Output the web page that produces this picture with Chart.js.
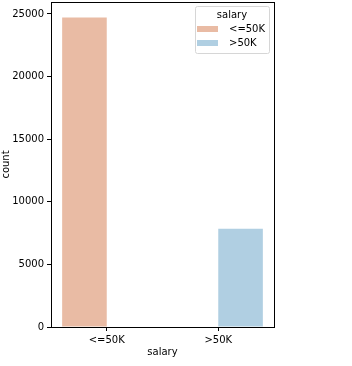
<!DOCTYPE html>
<html>
<head>
<meta charset="utf-8">
<script src="https://cdn.jsdelivr.net/npm/chart.js@4.4.1/dist/chart.umd.min.js"></script>
<style>
  html, body { margin: 0; padding: 0; background: #fff; }
  #wrap { width: 352px; height: 366px; }
</style>
</head>
<body>
<div id="wrap"><canvas id="chart"></canvas></div>
<script>
(function () {
    "use strict";

    // Data
    const categories = ["<=50K", ">50K"];
    const hueLabels = ["<=50K", ">50K"];
    const lowIncome = [24720, null];
    const highIncome = [null, 7841];
    const yTicks = [0, 5000, 10000, 15000, 20000, 25000];
    const yMax = 25956;

    const colors = ["#e9bba4", "#b0cfe2"];
    const font = { family: "'DejaVu Sans', sans-serif", size: 10 };

    // Frame round the plot + legend box in the top right corner
    const framePlugin = {
        id: "frame",
        afterDatasetsDraw(chart) {
            const ctx = chart.ctx;
            const a = chart.chartArea;
            ctx.save();
            ctx.strokeStyle = "#000";
            ctx.lineWidth = 1;
            ctx.strokeRect(Math.round(a.left) + 0.5, Math.round(a.top) + 0.5,
                Math.round(a.right - a.left), Math.round(a.bottom - a.top));

            // legend
            const x0 = 195, y0 = 6, w = 74, h = 47;
            ctx.fillStyle = "rgba(255,255,255,0.8)";
            ctx.strokeStyle = "#d6d6d6";
            ctx.beginPath();
            ctx.roundRect(x0 + 0.5, y0 + 0.5, w, h, 2);
            ctx.fill();
            ctx.stroke();
            ctx.font = "10px 'DejaVu Sans', sans-serif";
            ctx.fillStyle = "#000";
            ctx.textBaseline = "middle";
            ctx.textAlign = "center";
            ctx.fillText("salary", x0 + w / 2, y0 + 9);
            ctx.textAlign = "left";
            chart.data.datasets.forEach((ds, i) => {
                const yy = y0 + 23 + i * 14;
                ctx.fillStyle = ds.backgroundColor;
                ctx.fillRect(x0 + 2, yy - 3, 21, 6);
                ctx.fillStyle = "#000";
                ctx.fillText(ds.label, x0 + 34, yy);
            });
            ctx.restore();
        },
    };

    new Chart(document.getElementById("chart"), {
        type: "bar",
        data: {
            labels: categories,
            datasets: [
                {
                    label: hueLabels[0],
                    data: lowIncome,
                    backgroundColor: colors[0],
                    categoryPercentage: 0.8,
                    barPercentage: 1.0,
                },
                {
                    label: hueLabels[1],
                    data: highIncome,
                    backgroundColor: colors[1],
                    categoryPercentage: 0.8,
                    barPercentage: 1.0,
                },
            ],
        },
        options: {
            responsive: true,
            maintainAspectRatio: false,
            animation: false,
            layout: { padding: { top: 2, right: 78, left: 0, bottom: 0 } },
            plugins: {
                legend: { display: false },
                tooltip: { enabled: false },
            },
            scales: {
                x: {
                    grid: { drawOnChartArea: false, offset: false, tickLength: 4, tickColor: "#000" },
                    border: { color: "#000" },
                    ticks: { color: "#000", font: font, padding: 3, maxRotation: 0 },
                    title: {
                        display: true, text: "salary", color: "#000", font: font,
                        padding: { top: 0, bottom: 8 },
                    },
                    afterFit(scale) {
                        scale.height = 39;
                        scale.paddingLeft = 0;
                        scale.paddingRight = 0;
                    },
                },
                y: {
                    min: 0,
                    max: yMax,
                    afterBuildTicks(scale) {
                        scale.ticks = yTicks.map((v) => ({ value: v }));
                    },
                    grid: { drawOnChartArea: false, tickLength: 4, tickColor: "#000" },
                    border: { color: "#000" },
                    ticks: {
                        color: "#000", font: font, padding: 3,
                        callback: (v) => String(v),
                    },
                    title: {
                        display: true, text: "count", color: "#000", font: font,
                        padding: { top: 0, bottom: 0 },
                    },
                    afterFit(scale) {
                        scale.width = 51;
                        scale.paddingTop = 0;
                        scale.paddingBottom = 0;
                    },
                },
            },
        },
        plugins: [framePlugin],
    });
})();
</script>
</body>
</html>
